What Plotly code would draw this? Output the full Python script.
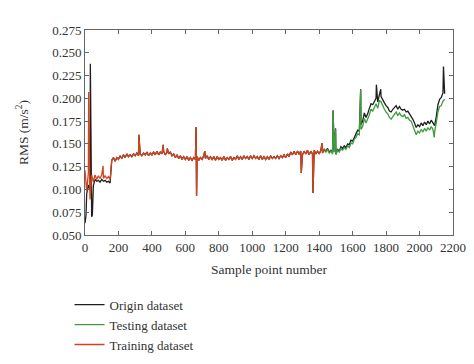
import plotly.graph_objects as go

# ---------------- data ----------------
# Training dataset, base readings at sample points 0..1440 (step 10)
train_base_x = list(range(0, 1450, 10))
train_base_y = [
    0.121, 0.098, 0.118, 0.089, 0.116, 0.108, 0.116, 0.111, 0.115, 0.112,   # 0-90
    0.116, 0.112, 0.115, 0.112, 0.114, 0.111, 0.132, 0.135, 0.131, 0.135,   # 100-190
    0.133, 0.137, 0.134, 0.138, 0.135, 0.139, 0.136, 0.138, 0.136, 0.139,   # 200-290
    0.137, 0.140, 0.137, 0.139, 0.137, 0.140, 0.138, 0.141, 0.137, 0.140,   # 300-390
    0.138, 0.141, 0.138, 0.142, 0.138, 0.141, 0.139, 0.142, 0.138, 0.141,   # 400-490
    0.139, 0.141, 0.137, 0.139, 0.135, 0.138, 0.134, 0.137, 0.133, 0.136,   # 500-590
    0.133, 0.136, 0.132, 0.135, 0.132, 0.135, 0.133, 0.136, 0.132, 0.135,   # 600-690
    0.133, 0.137, 0.134, 0.137, 0.133, 0.136, 0.133, 0.136, 0.132, 0.136,   # 700-790
    0.133, 0.135, 0.132, 0.136, 0.132, 0.135, 0.133, 0.136, 0.132, 0.135,   # 800-890
    0.133, 0.137, 0.133, 0.136, 0.133, 0.137, 0.134, 0.136, 0.133, 0.137,   # 900-990
    0.134, 0.137, 0.134, 0.136, 0.133, 0.137, 0.133, 0.136, 0.133, 0.136,   # 1000-1090
    0.133, 0.137, 0.134, 0.136, 0.134, 0.137, 0.134, 0.137, 0.135, 0.138,   # 1100-1190
    0.135, 0.139, 0.136, 0.141, 0.138, 0.142, 0.138, 0.142, 0.139, 0.142,   # 1200-1290
    0.138, 0.142, 0.139, 0.143, 0.138, 0.142, 0.139, 0.143, 0.139, 0.142,   # 1300-1390
    0.139, 0.143, 0.140, 0.144, 0.142,                                      # 1400-1440
]
# Training dataset, isolated spikes
train_spike_x = [22, 108, 322, 468, 492, 664, 667, 716, 1293, 1363, 1417]
train_spike_y = [0.207, 0.126, 0.160, 0.149, 0.145, 0.1685, 0.093, 0.142, 0.118, 0.096, 0.151]

# Testing dataset, base readings at sample points 1430..2150 (step 10)
test_base_x = list(range(1430, 2160, 10))
test_base_y = [
    0.143, 0.141, 0.144, 0.140, 0.142, 0.139, 0.141, 0.138, 0.143, 0.141,   # 1430-1520
    0.145, 0.143, 0.146, 0.144, 0.148, 0.146, 0.151, 0.150, 0.155, 0.157,   # 1530-1620
    0.161, 0.160, 0.166, 0.169, 0.178, 0.173, 0.177, 0.182, 0.188, 0.186,   # 1630-1720
    0.190, 0.194, 0.189, 0.198, 0.196, 0.191, 0.188, 0.185, 0.183, 0.179,   # 1730-1820
    0.177, 0.180, 0.182, 0.185, 0.181, 0.184, 0.181, 0.180, 0.182, 0.178,   # 1830-1920
    0.179, 0.176, 0.175, 0.170, 0.167, 0.160, 0.164, 0.162, 0.166, 0.163,   # 1930-2020
    0.167, 0.164, 0.168, 0.165, 0.169, 0.166, 0.163, 0.173, 0.185, 0.191,   # 2030-2120
    0.192, 0.197, 0.199,                                                    # 2130-2150
]
test_spike_x = [1483, 1498, 1648, 2088]
test_spike_y = [0.186, 0.166, 0.209, 0.157]

# Origin dataset: own readings where it differs from the fitted curves
origin_head_y = [  # samples 0..150
    0.063, 0.095, 0.105, 0.099, 0.070, 0.104, 0.111, 0.109, 0.110, 0.108,
    0.111, 0.109, 0.110, 0.108, 0.109, 0.107,
]
origin_tail_y = [  # samples 1430..2150
    0.144, 0.142, 0.145, 0.141, 0.143, 0.140, 0.142, 0.139, 0.144, 0.142,
    0.147, 0.145, 0.148, 0.146, 0.150, 0.149, 0.154, 0.153, 0.158, 0.161,
    0.165, 0.164, 0.171, 0.175, 0.184, 0.179, 0.183, 0.189, 0.194, 0.193,
    0.197, 0.200, 0.196, 0.204, 0.202, 0.198, 0.195, 0.192, 0.190, 0.186,
    0.185, 0.188, 0.190, 0.192, 0.188, 0.191, 0.188, 0.187, 0.188, 0.185,
    0.186, 0.183, 0.181, 0.177, 0.173, 0.168, 0.171, 0.169, 0.173, 0.170,
    0.174, 0.171, 0.175, 0.172, 0.176, 0.173, 0.170, 0.180, 0.193, 0.199,
    0.201, 0.206, 0.205,
]
origin_own_spike_x = [6, 32, 44, 1483, 1498, 1648, 1742, 1768, 2143]
origin_own_spike_y = [0.072, 0.238, 0.072, 0.187, 0.167, 0.210, 0.215, 0.210, 0.235]

x_ticks = list(range(0, 2201, 200))
y_ticks = [0.050, 0.075, 0.100, 0.125, 0.150, 0.175, 0.200, 0.225, 0.250, 0.275]

series_names = ["Origin dataset", "Testing dataset", "Training dataset"]
series_colors = ["#1e1e1e", "#3e9c3e", "#d4431c"]


def merge(bx, by, sx, sy):
    pts = sorted(list(zip(bx, by)) + list(zip(sx, sy)))
    return [p[0] for p in pts], [p[1] for p in pts]


train_x, train_y = merge(train_base_x, train_base_y, train_spike_x, train_spike_y)
test_x, test_y = merge(test_base_x, test_base_y, test_spike_x, test_spike_y)

# between samples 160 and 1420 the origin coincides with the training readings
origin_base_x = list(range(0, 2160, 10))
origin_base_y = origin_head_y + train_base_y[16:143] + origin_tail_y
shared = [(x, y) for x, y in zip(train_spike_x, train_spike_y) if 160 <= x <= 1425]
origin_x, origin_y = merge(origin_base_x, origin_base_y,
                           origin_own_spike_x + [p[0] for p in shared],
                           origin_own_spike_y + [p[1] for p in shared])

FONT = "Liberation Serif, Times New Roman, serif"
TXT = "#333333"

fig = go.Figure()
for name, xs, ys, col in [
    (series_names[0], origin_x, origin_y, series_colors[0]),
    (series_names[1], test_x, test_y, series_colors[1]),
    (series_names[2], train_x, train_y, series_colors[2]),
]:
    fig.add_trace(go.Scatter(x=xs, y=ys, mode="lines", name=name,
                             line=dict(color=col, width=1.3)))

axis_common = dict(
    showline=True, linecolor="#666666", linewidth=1, mirror="ticks",
    ticks="inside", ticklen=4, tickcolor="#666666", showgrid=False, zeroline=False,
    tickfont=dict(family=FONT, size=13, color=TXT), automargin=False,
)

fig.update_layout(
    width=474, height=364,
    margin=dict(l=77, r=29, t=22, b=128),
    paper_bgcolor="white", plot_bgcolor="white",
    font=dict(family=FONT, size=13, color=TXT),
    xaxis=dict(range=[0, 2200], tickvals=x_ticks,
               title=dict(text="Sample point number", font=dict(family=FONT, size=13.5, color=TXT), standoff=10),
               **axis_common),
    yaxis=dict(range=[0.05, 0.275], tickvals=y_ticks, tickformat=".3f",
               title=dict(text="RMS (m/s<sup>2</sup>)", font=dict(family=FONT, size=13.5, color=TXT), standoff=20),
               **axis_common),
    legend=dict(x=-0.042, y=-0.267, xanchor="left", yanchor="top",
                bgcolor="rgba(0,0,0,0)", font=dict(family=FONT, size=13, color=TXT),
                tracegroupgap=0, itemwidth=30),
    showlegend=True,
)

fig.write_html("out.html")
